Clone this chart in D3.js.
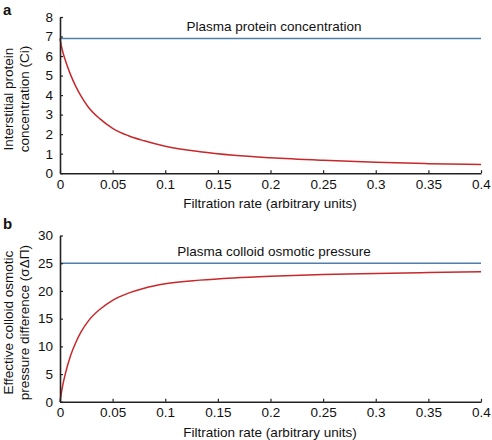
<!DOCTYPE html>
<html>
<head>
<meta charset="utf-8">
<script src="https://cdn.jsdelivr.net/npm/d3@7"></script>
<style>
  body { margin: 0; background: #fff; }
  svg { display: block; font-family: "Liberation Sans", Arial, Helvetica, sans-serif; }
</style>
</head>
<body>
<svg id="chart" width="492" height="440"></svg>
<script>
// ---- data ----
const filtrationRate = [0, 0.002, 0.005, 0.01, 0.015, 0.02, 0.027, 0.038, 0.05, 0.065, 0.08, 0.1, 0.133, 0.165, 0.2, 0.25, 0.3, 0.35, 0.4];
const interstitialConc = [6.9, 6.35, 5.8, 5.05, 4.45, 3.95, 3.38, 2.78, 2.3, 1.92, 1.66, 1.38, 1.1, 0.92, 0.79, 0.66, 0.56, 0.49, 0.44];
const effectiveCOP = [0, 2.4, 5.0, 8.3, 10.7, 12.6, 14.6, 16.7, 18.3, 19.6, 20.5, 21.3, 21.95, 22.35, 22.65, 22.95, 23.15, 23.32, 23.45];
const plasmaProtein = 6.9;
const plasmaCOP = 25;
const xTicks = [0, 0.05, 0.1, 0.15, 0.2, 0.25, 0.3, 0.35, 0.4];
const yTicksA = [0, 1, 2, 3, 4, 5, 6, 7, 8];
const yTicksB = [0, 5, 10, 15, 20, 25, 30];
const panels = [
  { letter: "a", y: interstitialConc, ref: plasmaProtein, refLabel: "Plasma protein concentration",
    yDomain: [0, 8], yTicks: yTicksA, yTitle: ["Interstitial protein", "concentration (Ci)"] },
  { letter: "b", y: effectiveCOP, ref: plasmaCOP, refLabel: "Plasma colloid osmotic pressure",
    yDomain: [0, 30], yTicks: yTicksB, yTitle: ["Effective colloid osmotic", "pressure difference (\u03C3\u0394\u03A0)"] }
];
const xLabel = "Filtration rate (arbitrary units)";

// ---- layout ----
const svg = d3.select("#chart");
const layout = [
  { top: 17, bottom: 173.2, letterY: 15 },
  { top: 235.5, bottom: 401.8, letterY: 229 }
];
const left = 60, right = 481;
const axisColor = "#222";
const blue = "#4f7fa8";
const red = "#c8282b";
const fs = 13.5;

panels.forEach((p, i) => {
  const L = layout[i];
  const x = d3.scaleLinear().domain([0, 0.4]).range([left, right]);
  const y = d3.scaleLinear().domain(p.yDomain).range([L.bottom, L.top]);
  const g = svg.append("g");

  // panel letter
  g.append("text").attr("x", 3).attr("y", L.letterY)
    .attr("font-size", 15).attr("font-weight", "bold").attr("fill", "#111").text(p.letter);

  // reference line
  g.append("line")
    .attr("x1", x(0)).attr("x2", x(0.4))
    .attr("y1", y(p.ref)).attr("y2", y(p.ref))
    .attr("stroke", blue).attr("stroke-width", 1.6);

  g.append("text")
    .attr("x", 274).attr("y", y(p.ref) - 7)
    .attr("text-anchor", "middle").attr("font-size", fs).attr("fill", "#111")
    .text(p.refLabel);

  // curve
  const line = d3.line()
    .x((d, k) => x(filtrationRate[k]))
    .y(d => y(d))
    .curve(d3.curveMonotoneX);
  g.append("path").datum(p.y)
    .attr("d", line).attr("fill", "none")
    .attr("stroke", red).attr("stroke-width", 1.5);

  // axes
  const xAxis = d3.axisBottom(x).tickValues(xTicks)
    .tickFormat(d => d === 0 ? "0" : String(+d.toFixed(2)))
    .tickSizeInner(-3).tickSizeOuter(0).tickPadding(6);
  const gx = g.append("g").attr("transform", `translate(0,${L.bottom})`).call(xAxis);
  gx.select(".domain").attr("stroke", axisColor).attr("stroke-width", 1.6);
  gx.selectAll(".tick line").attr("stroke", axisColor).attr("stroke-width", 1.2);
  gx.selectAll("text").attr("font-size", fs).attr("fill", "#111")
    .attr("font-family", "Liberation Sans, Arial, sans-serif");

  const yAxis = d3.axisLeft(y).tickValues(p.yTicks)
    .tickSizeInner(-3).tickSizeOuter(0).tickPadding(7);
  const gy = g.append("g").attr("transform", `translate(${left},0)`).call(yAxis);
  gy.select(".domain").attr("stroke", axisColor).attr("stroke-width", 1.6);
  gy.selectAll(".tick line").attr("stroke", axisColor).attr("stroke-width", 1.2);
  gy.selectAll("text").attr("font-size", fs).attr("fill", "#111")
    .attr("font-family", "Liberation Sans, Arial, sans-serif");

  // x title
  g.append("text").attr("x", 270).attr("y", L.bottom + 35)
    .attr("text-anchor", "middle").attr("font-size", fs).attr("fill", "#111")
    .text(xLabel);

  // y title (two lines)
  const cy = (L.top + L.bottom) / 2 + 4;
  p.yTitle.forEach((t, k) => {
    g.append("text")
      .attr("transform", `translate(${13 + k * 16},${cy}) rotate(-90)`)
      .attr("text-anchor", "middle").attr("font-size", fs).attr("fill", "#111")
      .text(t);
  });
});
</script>
</body>
</html>
